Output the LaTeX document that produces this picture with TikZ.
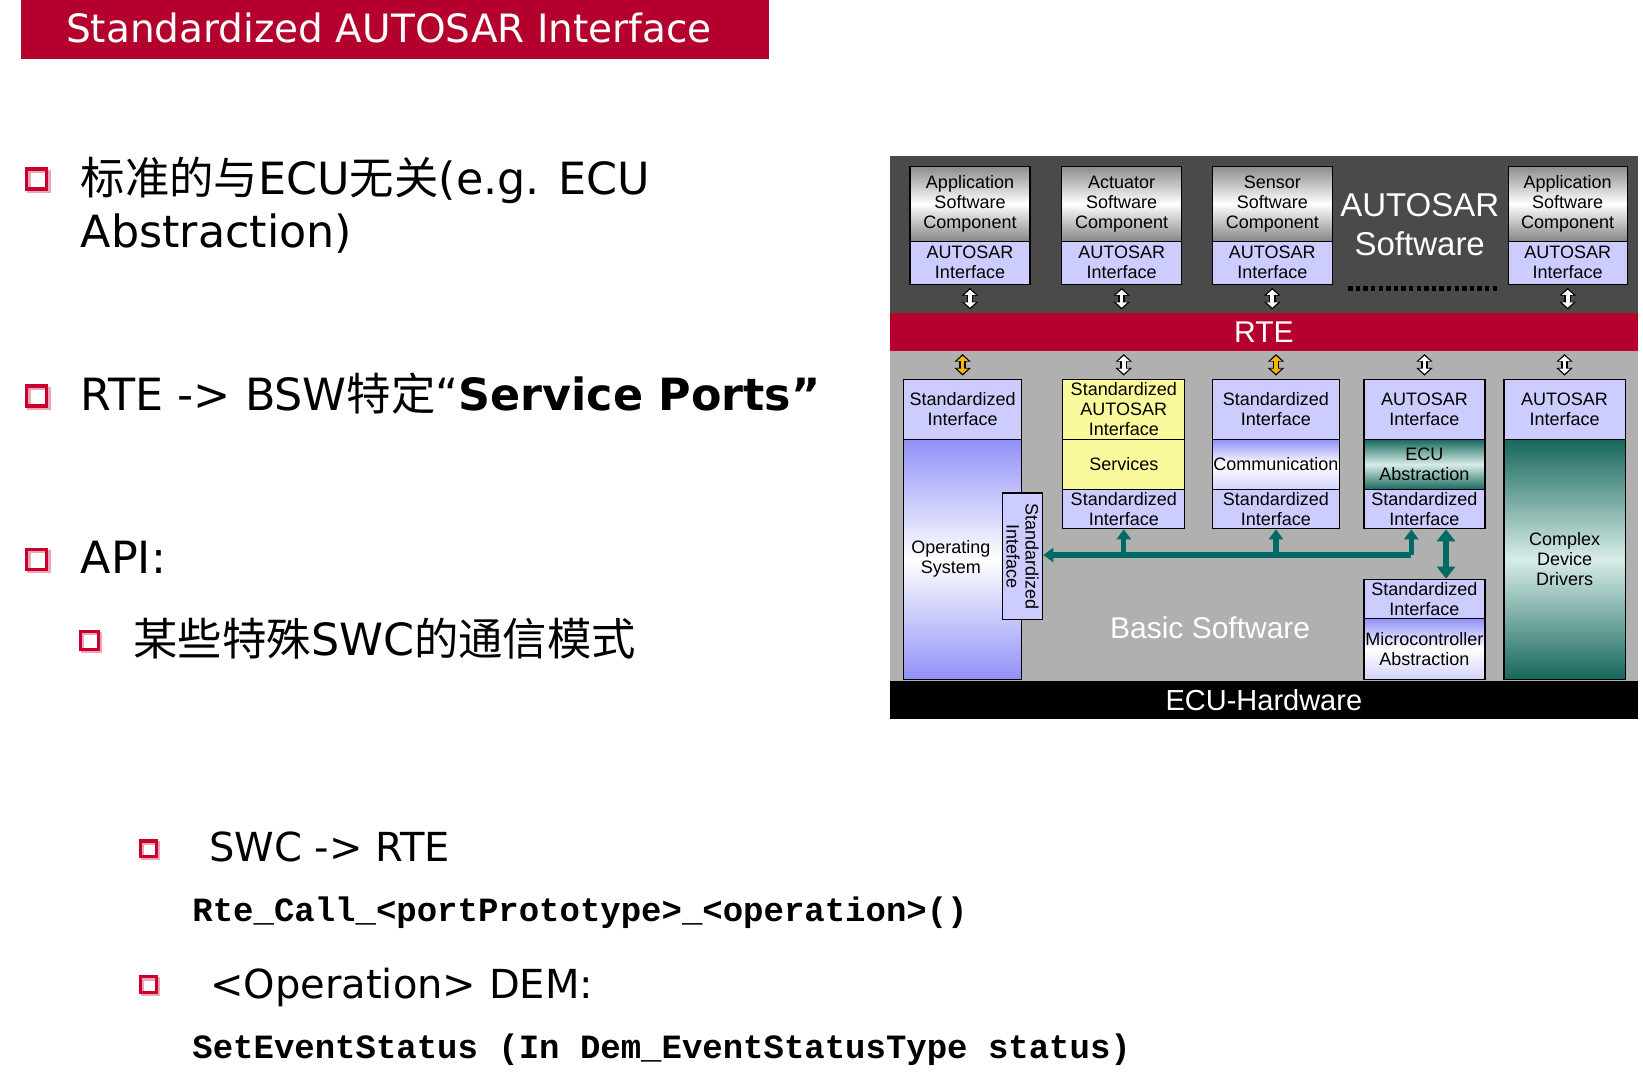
\documentclass[tikz,border=0pt]{standalone}
\usepackage{fontspec}
\setmainfont{DejaVu Sans}
\newfontfamily\dia{Liberation Sans}
\newfontfamily\cjk{Noto Sans CJK SC}
\newfontfamily\code{Liberation Mono}
\usetikzlibrary{arrows.meta}
\definecolor{autored}{HTML}{B5002E}
\definecolor{bulred}{HTML}{C8002E}
\definecolor{darkbg}{HTML}{4A4A4A}
\definecolor{midgray}{HTML}{B0B0B0}
\definecolor{lav}{HTML}{CCCCFF}
\definecolor{blu}{HTML}{9090F8}
\definecolor{yel}{HTML}{FAFA9C}
\definecolor{teal1}{HTML}{16675C}
\definecolor{teal2}{HTML}{D8ECE8}
\definecolor{bus}{HTML}{006A64}
\definecolor{gold}{HTML}{F5B800}
\newcommand\bx[7]{\node[#6, minimum width={(#4-#2)*0.5266pt}, minimum height={(#5-#3)*0.5266pt}] (#1) at ({(#2+#4)/2},{(#3+#5)/2}) {#7};}
\newcommand\bul[3]{%
  \draw[draw=bulred!35, line width=1.6pt] ({#1-#3/2+2},{#2-#3/2+2}) rectangle ({#1+#3/2+2},{#2+#3/2+2});
  \draw[draw=bulred, line width=1.6pt] ({#1-#3/2},{#2-#3/2}) rectangle ({#1+#3/2},{#2+#3/2});}
\tikzset{
  box/.style={draw=black, line width=0.6pt, inner sep=0pt, align=center, font=\dia\fontsize{9}{10}\selectfont},
  lavbox/.style={box, fill=lav},
  swc/.style={box, top color=gray!90, bottom color=gray!95, middle color=white},
  yelbox/.style={box, fill=yel},
  osbox/.style={box, top color=blu, bottom color=blu, middle color=white},
  combox/.style={box, top color=blu, bottom color=blu!40, middle color=white},
  tealbox/.style={box, top color=teal1, bottom color=teal1, middle color=teal2},
  dbl/.style={line width=3.4pt, draw=black, {Triangle[length=3.8pt,width=8pt]}-{Triangle[length=3.8pt,width=8pt]}},
  dblin/.style={line width=1.8pt, draw=#1, {Triangle[length=2.6pt,width=5.6pt]}-{Triangle[length=2.6pt,width=5.6pt]}},
  busline/.style={draw=bus, line width=2.6pt},
  busarr/.style={busline, -{Triangle[length=5pt,width=7pt]}},
  maintext/.style={anchor=base west, font=\fontsize{22.2}{28}\selectfont},
  subtext/.style={anchor=base west, font=\fontsize{20}{24}\selectfont},
  codetext/.style={anchor=base west, font=\code\bfseries\fontsize{17}{20}\selectfont},
}
\begin{document}
\begin{tikzpicture}[x=0.5266pt,y=-0.5266pt]
\useasboundingbox[fill=white] (0,0) rectangle (1560,1029.4);
% title
\fill[autored] (20,0) rectangle (730,56);
\node[anchor=base west, text=white, font=\fontsize{19.5}{24}\selectfont] (title) at (56,40) {Standardized AUTOSAR Interface};
% bullets
\bul{35}{170}{19}
\node[maintext] (t1) at (70,185) {{\cjk 标准的与}ECU{\cjk 无关}(e.g. ECU};
\node[maintext] (t1b) at (70,235) {Abstraction)};
\bul{35}{376}{19}
\node[maintext] (t2) at (70,390) {RTE -> BSW{\cjk 特定}“\textbf{Service Ports”}};
\bul{35}{531}{19}
\node[maintext] (t3) at (70,545) {API:};
\bul{85}{608}{17}
\node[maintext] (t4) at (120,622) {{\cjk 某些特殊}SWC{\cjk 的通信模式}};
\bul{141}{806}{15}
\node[subtext] (t5) at (192,818) {SWC -> RTE};
\node[codetext] (c1) at (176,875) {Rte\_Call\_<portPrototype>\_<operation>()};
\bul{141}{935}{15}
\node[subtext] (t6) at (193,948) {<Operation> DEM:};
\node[codetext] (c2) at (176,1005) {SetEventStatus (In Dem\_EventStatusType status)};
% diagram background
\fill[darkbg] (845,148) rectangle (1555,297);
\fill[midgray] (845,333) rectangle (1555,647);
\node[fill=autored, minimum width={710*0.5266pt}, minimum height={36*0.5266pt}, inner sep=0pt, text=white, font=\dia\fontsize{15}{16}\selectfont] (rte) at (1200,315) {RTE};
\node[fill=black, minimum width={710*0.5266pt}, minimum height={36*0.5266pt}, inner sep=0pt, text=white, font=\dia\fontsize{14.5}{16}\selectfont] (hw) at (1200,665) {ECU-Hardware};
% top SWCs
\bx{s1}{864}{158}{978}{229}{swc}{Application\\Software\\Component}
\bx{i1}{864}{229}{978}{270}{lavbox}{AUTOSAR\\Interface}
\bx{s2}{1008}{158}{1122}{229}{swc}{Actuator\\Software\\Component}
\bx{i2}{1008}{229}{1122}{270}{lavbox}{AUTOSAR\\Interface}
\bx{s3}{1151}{158}{1265}{229}{swc}{Sensor\\Software\\Component}
\bx{i3}{1151}{229}{1265}{270}{lavbox}{AUTOSAR\\Interface}
\bx{s4}{1432}{158}{1545}{229}{swc}{Application\\Software\\Component}
\bx{i4}{1432}{229}{1545}{270}{lavbox}{AUTOSAR\\Interface}
\node[text=white, align=center, font=\dia\fontsize{16.5}{19.5}\selectfont] (aswt) at (1348,213) {AUTOSAR\\Software};
\draw[black, line width=2.2pt, dash pattern=on 2.2pt off 1.6pt] (1280,274) -- (1422,274);
% arrows SWC-RTE
\foreach \n in {i1,i2,i3,i4}{
  \draw[dbl, shorten <=1.5pt, shorten >=1.5pt] (\n.south) -- (\n.south |- rte.north);
  \draw[dblin=white, shorten <=2.4pt, shorten >=2.4pt] (\n.south) -- (\n.south |- rte.north);
}
% lower boxes
\bx{osi}{858}{360}{970}{417}{lavbox}{Standardized\\Interface}
\bx{os}{858}{417}{970}{645}{osbox}{\hspace*{-1.3em}Operating\\\hspace*{-1.3em}System}
\bx{osv}{952}{468}{990}{588}{lavbox}{}
\node[rotate=-90, align=center, font=\dia\fontsize{9}{9.5}\selectfont] (osvt) at (osv.center) {Standardized\\Inteface};
\bx{sai}{1009}{360}{1125}{417}{yelbox}{Standardized\\AUTOSAR\\Interface}
\bx{srv}{1009}{417}{1125}{465}{yelbox}{Services}
\bx{srvi}{1009}{465}{1125}{502}{lavbox}{Standardized\\Interface}
\bx{comi}{1151}{360}{1272}{417}{lavbox}{Standardized\\Interface}
\bx{com}{1151}{417}{1272}{465}{combox}{Communication}
\bx{comb}{1151}{465}{1272}{502}{lavbox}{Standardized\\Interface}
\bx{ecui}{1295}{360}{1410}{417}{lavbox}{AUTOSAR\\Interface}
\bx{ecu}{1295}{417}{1410}{465}{tealbox}{ECU\\Abstraction}
\bx{ecub}{1295}{465}{1410}{502}{lavbox}{Standardized\\Interface}
\bx{mci}{1295}{550}{1410}{587}{lavbox}{Standardized\\Interface}
\bx{mc}{1295}{587}{1410}{645}{combox}{Microcontroller\\Abstraction}
\bx{cddi}{1428}{360}{1543}{417}{lavbox}{AUTOSAR\\Interface}
\bx{cdd}{1428}{417}{1543}{645}{tealbox}{Complex\\Device\\Drivers}
% arrows RTE-BSW
\foreach \n/\c in {osi/gold,sai/white,comi/gold,ecui/white,cddi/white}{
  \draw[dbl, shorten <=1.5pt, shorten >=1.5pt] (\n.north |- rte.south) -- (\n.north);
  \draw[dblin=\c, shorten <=2.4pt, shorten >=2.4pt] (\n.north |- rte.south) -- (\n.north);
}
% bus
\coordinate (busR) at (1340,527);
\draw[busarr] (busR) -- (osv.east |- busR);
\draw[busarr] (srvi.south |- busR) -- (srvi.south);
\draw[busarr] (comb.south |- busR) -- (comb.south);
\draw[busarr] (busR) -- (busR |- ecub.south);
\draw[busline, line width=3.2pt, {Triangle[length=6pt,width=9pt]}-{Triangle[length=6pt,width=9pt]}] (ecub.south -| 1373,0) -- (mci.north -| 1373,0);
\node[text=white, font=\dia\fontsize{15}{16}\selectfont] (bsw) at (1149,596) {Basic Software};
\end{tikzpicture}
\end{document}
